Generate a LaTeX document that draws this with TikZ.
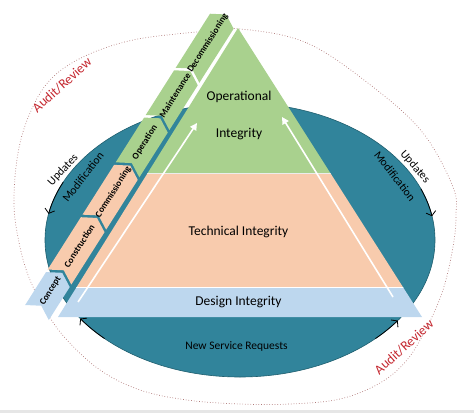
\documentclass[tikz,border=0pt]{standalone}
\usepackage{fontspec}
\setmainfont{Carlito}
\usetikzlibrary{arrows.meta}
\definecolor{tealc}{HTML}{31849B}
\definecolor{tealdark}{HTML}{1F5E6E}
\definecolor{greenc}{HTML}{A9D18E}
\definecolor{peachc}{HTML}{F8CBAD}
\definecolor{bluec}{HTML}{BDD7EE}
\definecolor{redc}{HTML}{C4262E}
\definecolor{dotc}{HTML}{B07A7A}
\definecolor{bandc}{HTML}{E6E6E6}
\begin{document}
\begin{tikzpicture}[x=1pt,y=1pt,
  lbl/.style={font=\fontsize{13.5}{15}\selectfont, inner sep=0pt, text=black},
  audit/.style={font=\fontsize{13.5}{15}\selectfont, inner sep=0pt, text=redc},
  side/.style={font=\fontsize{11.5}{13}\selectfont, inner sep=0pt, text=black},
  chevlab/.style={font=\bfseries\fontsize{9.2}{10}\selectfont, inner sep=0pt, rotate=57.6, text=black},
  warr/.style={white, line width=1.6pt, -{Triangle[length=7pt,width=7pt]}},
  barr/.style={black, line width=0.8pt, -{Straight Barb[length=4pt,width=10pt]}}]
\useasboundingbox (0,0) rectangle (474,-413);
% bottom gray band
\fill[bandc] (0,-410) rectangle (474,-413);
% outer dotted curve
\draw[dotc, line width=0.7pt, dotted] plot[smooth cycle, tension=0.6] coordinates {
 (240,-29) (307,-43) (373,-87) (423,-133) (453,-187) (456,-215) (453,-247) (443,-290)
 (427,-327) (407,-360) (380,-383) (340,-399) (290,-404) (240,-404) (187,-400) (140,-390)
 (100,-370) (67,-340) (47,-313) (30,-280) (20,-247) (14,-205) (18,-153) (30,-113)
 (50,-80) (83,-57) (133,-40) (197,-32)};
% teal ellipse
\fill[tealc, draw=tealdark, line width=0.6pt] (240,-240) ellipse [x radius=195, y radius=137];
% pyramid body
\coordinate (apex) at (238,-28);
\coordinate (bl) at (58,-317);
\coordinate (br) at (422,-317);
\begin{scope}
\clip (bl) -- (apex) -- (br) -- cycle;
\fill[greenc] (50,-20) rectangle (430,-173);
\fill[peachc] (50,-173) rectangle (430,-287);
\fill[bluec] (50,-287) rectangle (430,-320);
\draw[white!85!gray, line width=1pt] (50,-173) -- (430,-173);
\draw[white, line width=0.8pt] (50,-287) -- (430,-287);
\end{scope}
% lifecycle chevron strip
\begin{scope}[shift={(59,-317)}, rotate=57.6]
\foreach \a/\b/\c/\lab/\n in {-8/31/bluec/Concept/c1, 34/96/peachc/Construction/c2,
  99/158/peachc/Commissioning/c3, 161/214/greenc/Operation/c4,
  217/270/greenc/Maintenance/c5, 273/337/greenc/Decommissioning/c6}{
  \fill[\c] (\a,35) -- (\b,35) -- (\b+8,21) -- (\b,7) -- (\a,7) -- (\a+8,21) -- cycle;
  \node[chevlab] (\n) at ({(\a+\b)/2+6},21) {\lab};
}
\end{scope}
% white arrows
\coordinate (wl1) at (78,-302); \coordinate (wl2) at (197,-123);
\coordinate (wr1) at (393,-297); \coordinate (wr2) at (282,-117);
\draw[warr] (wl1) -- (wl2);
\draw[warr] (wr1) -- (wr2);
% texts
\node[lbl] (op1) at (239,-97) {Operational};
\node[lbl] (op2) at (239,-134) {Integrity};
\node[lbl] (ti) at (238.5,-232) {Technical Integrity};
\node[lbl] (di) at (238.5,-302) {Design Integrity};
\node[lbl, font=\fontsize{11.5}{13}\selectfont] (nsr) at (236.5,-346) {New Service Requests};
\node[audit, rotate=42] (ar1) at (62,-85) {Audit/Review};
\node[audit, rotate=42] (ar2) at (404,-347) {Audit/Review};
\node[side, rotate=47] (u1) at (63,-170) {Updates};
\node[side, rotate=52] (m1) at (83,-177) {Modification};
\node[side, rotate=-49] (u2) at (415,-167) {Updates};
\node[side, rotate=-52] (m2) at (395,-176) {Modification};
% black cycle arrows on the ellipse rim
\draw[barr] plot[domain=155:169, samples=15, variable=\t] ({240+195*cos(\t)},{-240+137*sin(\t)});
\draw[barr] plot[domain=22:10, samples=15, variable=\t] ({240+195*cos(\t)},{-240+137*sin(\t)});
\draw[barr] plot[domain=226:215, samples=15, variable=\t] ({240+195*cos(\t)},{-240+137*sin(\t)});
\draw[barr] plot[domain=-46:-36, samples=15, variable=\t] ({240+195*cos(\t)},{-240+137*sin(\t)});
\end{tikzpicture}
\end{document}
